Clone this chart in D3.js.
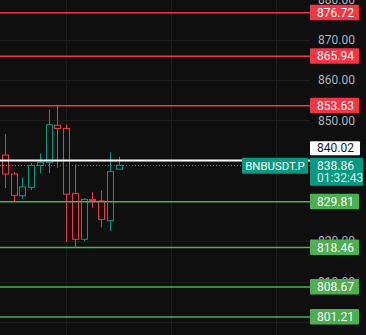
<!DOCTYPE html>
<html lang="en">
<head>
    <meta charset="UTF-8">
    <script src="https://d3js.org/d3.v7.min.js"></script>
    <title>BNBUSDT.P levels</title>
    <style>
        html, body { margin: 0; padding: 0; background: #0f0f0f; overflow: hidden; }
        svg { display: block; font-family: Roboto, "Liberation Sans", Arial, sans-serif; }
    </style>
</head>
<body>
    <div id="chart"></div>

    <script>
        // candles
        const opens  = [841.4, 836.7, 831.3, 833.4, 838.8, 839.6, 848.8, 848.0, 831.9, 820.5, 830.4, 830.0, 825.1, 837.9];
        const highs  = [846.6, 837.2, 835.8, 839.4, 841.8, 852.7, 853.8, 849.0, 839.1, 830.7, 832.2, 832.6, 842.1, 841.0];
        const lows   = [833.2, 830.0, 830.5, 832.7, 836.9, 836.9, 838.2, 819.9, 818.4, 820.1, 828.4, 823.4, 822.6, 837.9];
        const closes = [836.7, 831.4, 833.5, 838.8, 839.6, 848.9, 848.0, 831.7, 820.5, 830.4, 830.1, 825.4, 837.3, 838.86];

        const resistance = [876.72, 865.94, 853.63];
        const support = [829.81, 818.46, 808.67, 801.21];
        const markLevel = 840.02;
        const lastPrice = 838.86;
        const symbol = 'BNBUSDT.P';
        const countdown = '01:32:43';
        const priceTicks = [800, 810, 820, 830, 840, 850, 860, 870, 880];
        const timeGrid = [7, 19, 31]; // bar indexes where the vertical grid falls

        const width = 366, height = 335;
        const plotRight = 310;
        const bg = '#0f0f0f', red = '#f23645', green = '#4caf50', teal = '#089981';

        const y = d3.scaleLinear().domain([796.75, 879.87]).range([height, 0]);
        const x = d3.scaleLinear().domain([0, 13]).range([5, 118.5]);
        const crisp = v => Math.round(v) + 0.5;
        const fmt = d3.format('.2f');

        const svg = d3.select('#chart')
            .append('svg')
            .attr('width', width)
            .attr('height', height);

        svg.append('rect').attr('width', width).attr('height', height).attr('fill', bg);

        // grid
        svg.append('g')
            .selectAll('line')
            .data(priceTicks)
            .join('line')
            .attr('x1', 0).attr('x2', plotRight)
            .attr('y1', d => crisp(y(d))).attr('y2', d => crisp(y(d)))
            .attr('stroke', '#1c1c1c');

        svg.append('g')
            .selectAll('line')
            .data(timeGrid)
            .join('line')
            .attr('x1', d => crisp(x(d))).attr('x2', d => crisp(x(d)))
            .attr('y1', 0).attr('y2', height)
            .attr('stroke', '#1c1c1c');

        // candles
        const bars = d3.range(opens.length).map(i => ({
            i, o: opens[i], h: highs[i], l: lows[i], c: closes[i]
        }));
        const colorOf = d => d.c >= d.o ? teal : red;
        const bodyW = 6;

        const candle = svg.append('g')
            .selectAll('g')
            .data(bars)
            .join('g');

        candle.append('line')
            .attr('x1', d => crisp(x(d.i))).attr('x2', d => crisp(x(d.i)))
            .attr('y1', d => y(d.h)).attr('y2', d => y(d.l))
            .attr('stroke', colorOf);

        candle.append('rect')
            .attr('x', d => crisp(x(d.i)) - bodyW / 2)
            .attr('width', bodyW)
            .attr('y', d => y(Math.max(d.o, d.c)))
            .attr('height', d => Math.max(1, Math.abs(y(d.o) - y(d.c))))
            .attr('fill', bg)
            .attr('stroke', colorOf);

        // level lines
        const levels = resistance.map(v => ({ v, color: red }))
            .concat(support.map(v => ({ v, color: green })));

        svg.append('g')
            .selectAll('line')
            .data(levels)
            .join('line')
            .attr('x1', 0).attr('x2', plotRight)
            .attr('y1', d => y(d.v)).attr('y2', d => y(d.v))
            .attr('stroke', d => d.color)
            .attr('stroke-width', 1.5);

        svg.append('line')
            .attr('x1', 0).attr('x2', plotRight)
            .attr('y1', y(markLevel)).attr('y2', y(markLevel))
            .attr('stroke', '#ffffff')
            .attr('stroke-width', 2);

        svg.append('line')
            .attr('x1', 0).attr('x2', plotRight)
            .attr('y1', crisp(y(lastPrice))).attr('y2', crisp(y(lastPrice)))
            .attr('stroke', teal)
            .attr('stroke-dasharray', '1,2');

        // price axis ticks (hidden where a label sits on them)
        const labelVals = levels.map(d => d.v).concat([markLevel, lastPrice]);
        svg.append('g')
            .selectAll('text')
            .data(priceTicks.filter(t => d3.min(labelVals, v => Math.abs(y(v) - y(t))) >= 5))
            .join('text')
            .attr('x', 318)
            .attr('y', d => y(d))
            .attr('dy', '0.35em')
            .attr('font-size', 12)
            .attr('fill', '#b2b5be')
            .text(fmt);

        // level labels
        const tag = svg.append('g')
            .selectAll('g')
            .data(levels)
            .join('g');

        tag.append('rect')
            .attr('x', plotRight).attr('width', 49)
            .attr('y', d => y(d.v) - 8).attr('height', 15.5)
            .attr('rx', 1)
            .attr('fill', d => d.color);

        tag.append('text')
            .attr('x', 317)
            .attr('y', d => y(d.v))
            .attr('dy', '0.35em')
            .attr('font-size', 12)
            .attr('fill', '#ffffff')
            .text(d => fmt(d.v));

        // last price label + countdown
        const lastY = y(lastPrice);
        svg.append('rect')
            .attr('x', plotRight).attr('width', 53)
            .attr('y', lastY - 7.5).attr('height', 28)
            .attr('rx', 1)
            .attr('fill', teal);
        svg.append('text')
            .attr('x', 317).attr('y', lastY + 0.5)
            .attr('dy', '0.35em')
            .attr('font-size', 12)
            .attr('fill', '#ffffff')
            .text(fmt(lastPrice));
        svg.append('text')
            .attr('x', 317).attr('y', lastY + 12.5)
            .attr('dy', '0.35em')
            .attr('font-size', 12)
            .attr('fill', '#ffffff')
            .attr('fill-opacity', 0.85)
            .text(countdown);

        // symbol tag left of the axis
        svg.append('rect')
            .attr('x', 242).attr('width', 66)
            .attr('y', lastY - 7.5).attr('height', 16)
            .attr('rx', 1)
            .attr('fill', teal);
        svg.append('text')
            .attr('x', 275).attr('y', lastY + 0.5)
            .attr('dy', '0.35em')
            .attr('text-anchor', 'middle')
            .attr('font-size', 11.4)
            .attr('fill', '#ffffff')
            .text(symbol);

        // mark level label, pushed up above the last price label
        const markBottom = lastY - 10;
        svg.append('rect')
            .attr('x', plotRight).attr('width', 50)
            .attr('y', markBottom - 14).attr('height', 14)
            .attr('rx', 1)
            .attr('fill', '#ffffff');
        svg.append('text')
            .attr('x', 317).attr('y', markBottom - 7)
            .attr('dy', '0.35em')
            .attr('font-size', 12)
            .attr('fill', '#131722')
            .text(fmt(markLevel));
    </script>
</body>
</html>
